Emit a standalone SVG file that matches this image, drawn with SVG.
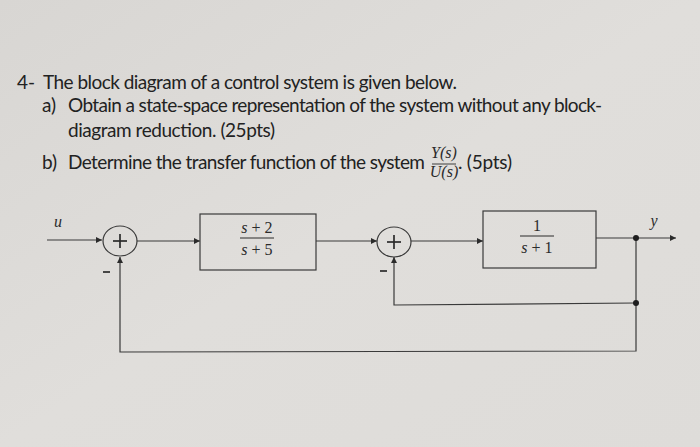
<svg xmlns="http://www.w3.org/2000/svg" width="700" height="447" viewBox="0 0 700 447">
<style>
.t{font-family:Lato,"Open Sans","Liberation Sans",sans-serif;font-size:19px;fill:#222}
.m{font-family:"Liberation Serif","DejaVu Serif",serif;font-size:16px;fill:#2b2b2b}
.mi{font-style:italic}
.w{stroke:#3a3a3a;stroke-width:1.2;fill:none}
.blk{stroke:#3a3a3a;stroke-width:1.2;fill:none}
.sum{stroke:#3a3a3a;stroke-width:1.2;fill:none}
.pl{stroke:#2b2b2b;stroke-width:1.7}
.dot{fill:#1e1e1e}
</style>
<defs>
<linearGradient id="bg" x1="0" y1="0" x2="1" y2="1">
<stop offset="0" stop-color="#d8d6d3"/>
<stop offset="0.5" stop-color="#e0dedb"/>
<stop offset="1" stop-color="#dedcd9"/>
</linearGradient>
<marker id="ar" viewBox="0 0 10 10" refX="10" refY="5" markerWidth="7" markerHeight="6" markerUnits="userSpaceOnUse" orient="auto">
<path d="M0,0 L10,5 L0,10 z" fill="#2b2b2b"/>
</marker>
</defs>
<rect width="700" height="447" fill="url(#bg)"/>

<g id="question">
<text class="t" x="17" y="89">4-</text>
<text class="t" x="43" y="89" textLength="414">The block diagram of a control system is given below.</text>
<text class="t" x="42" y="112">a)</text>
<text class="t" x="68" y="112" textLength="534">Obtain a state-space representation of the system without any block-</text>
<text class="t" x="68" y="137" textLength="207">diagram reduction. (25pts)</text>
<text class="t" x="42" y="169">b)</text>
<text class="t" x="68" y="169" textLength="357">Determine the transfer function of the system</text>
<text class="m mi" x="444" y="158" font-size="11.5" text-anchor="middle">Y(s)</text>
<line x1="432" y1="164" x2="456" y2="164" stroke="#2b2b2b" stroke-width="0.9"/>
<text class="m mi" x="444" y="177" font-size="11.5" text-anchor="middle">U(s)</text>
<text class="t" x="458" y="169" textLength="54">. (5pts)</text>
</g>

<g id="connectors">
<line class="w" x1="47" y1="240" x2="102" y2="240" marker-end="url(#ar)"/>
<line class="w" x1="137" y1="241" x2="200" y2="241" marker-end="url(#ar)"/>
<line class="w" x1="316" y1="241" x2="377" y2="241" marker-end="url(#ar)"/>
<line class="w" x1="411" y1="241" x2="483" y2="241" marker-end="url(#ar)"/>
<line class="w" x1="596" y1="238" x2="676" y2="238" marker-end="url(#ar)"/>
<polyline class="w" points="636,238 636,351 120,352 120,257" marker-end="url(#ar)"/>
<polyline class="w" points="636,303 394,305 394,257" marker-end="url(#ar)"/>
<circle class="dot" cx="636" cy="238" r="3"/>
<circle class="dot" cx="636" cy="303" r="3"/>
</g>

<g id="input-label">
<text class="m mi" x="58" y="227" font-size="17" text-anchor="middle">u</text>
</g>
<g id="output-label">
<text class="m mi" x="654" y="226" font-size="17" text-anchor="middle">y</text>
</g>

<g id="sum1">
<ellipse class="sum" cx="120" cy="241" rx="17" ry="15"/>
<line class="pl" x1="113" y1="241" x2="127" y2="241"/>
<line class="pl" x1="120" y1="234" x2="120" y2="248"/>
<line class="pl" x1="103" y1="272" x2="110" y2="272"/>
</g>

<g id="block1">
<rect class="blk" x="200" y="214" width="116" height="56"/>
<text class="m" x="257" y="233" text-anchor="middle"><tspan class="mi">s</tspan> + 2</text>
<line x1="240" y1="238" x2="274" y2="238" stroke="#2b2b2b" stroke-width="1"/>
<text class="m" x="257" y="255" text-anchor="middle"><tspan class="mi">s</tspan> + 5</text>
</g>

<g id="sum2">
<ellipse class="sum" cx="394" cy="242" rx="17" ry="15"/>
<line class="pl" x1="387" y1="242" x2="401" y2="242"/>
<line class="pl" x1="394" y1="235" x2="394" y2="249"/>
<line class="pl" x1="380" y1="271" x2="387" y2="271"/>
</g>

<g id="block2">
<rect class="blk" x="483" y="211" width="113" height="57"/>
<text class="m" x="537" y="231" text-anchor="middle">1</text>
<line x1="520" y1="236" x2="554" y2="236" stroke="#2b2b2b" stroke-width="1"/>
<text class="m" x="537" y="253" text-anchor="middle"><tspan class="mi">s</tspan> + 1</text>
</g>
</svg>
